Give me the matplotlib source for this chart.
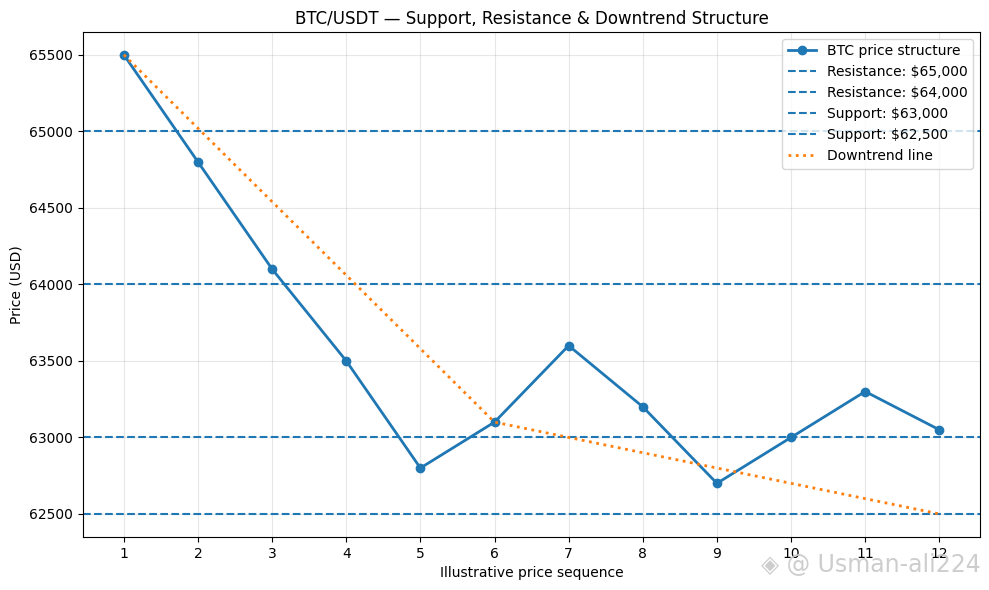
import matplotlib.pyplot as plt

# illustrative price sequence
steps = list(range(1, 13))
prices = [65500, 64800, 64100, 63500, 62800, 63100, 63600, 63200, 62700, 63000, 63300, 63050]

resistance_levels = [65000, 64000]
support_levels = [63000, 62500]

# downtrend line anchor points
trend_x = [1, 6, 12]
trend_y = [65500, 63100, 62500]


def main():
    fig, ax = plt.subplots(figsize=(9.89, 5.9), dpi=100)

    ax.plot(steps, prices, marker='o', linewidth=2, label='BTC price structure')

    for lvl in resistance_levels:
        ax.axhline(lvl, linestyle='--', linewidth=1.5, label=f'Resistance: ${lvl:,}')
    for lvl in support_levels:
        ax.axhline(lvl, linestyle='--', linewidth=1.5, label=f'Support: ${lvl:,}')

    # axhline cycles colours, force them all to the default blue
    for ln in ax.lines[1:]:
        ln.set_color('C0')

    ax.plot(trend_x, trend_y, linestyle=':', linewidth=2, color='C1', label='Downtrend line')

    ax.set_xticks(steps)
    ax.set_xlabel('Illustrative price sequence')
    ax.set_ylabel('Price (USD)')
    ax.set_title('BTC/USDT — Support, Resistance & Downtrend Structure')
    ax.grid(True, alpha=0.3)
    ax.legend(loc='upper right')

    fig.subplots_adjust(left=0.084, right=0.991, top=0.946, bottom=0.090)

    # watermark
    fig.text(0.992, 0.043, '◈ @ Usman-ali224', ha='right', va='center',
             fontsize=17, color='#c8c8c8', alpha=0.9)

    fig.savefig('out.png')


if __name__ == '__main__':
    main()
